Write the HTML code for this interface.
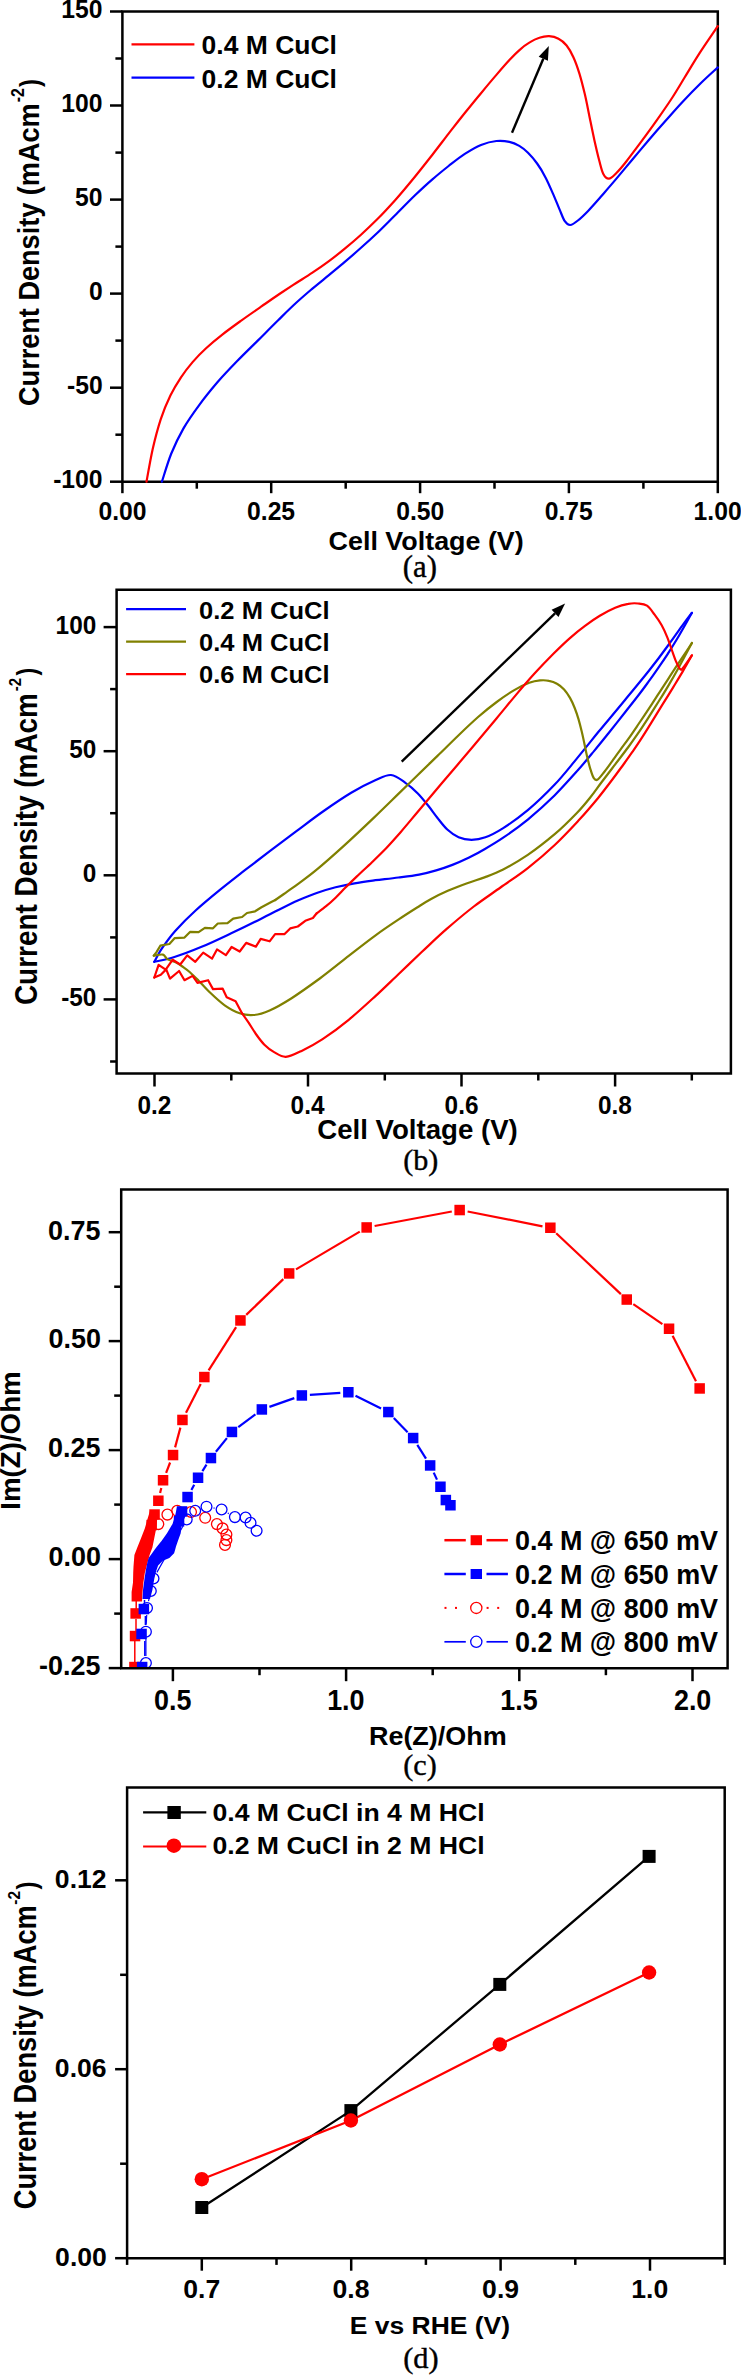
<!DOCTYPE html>
<html><head><meta charset="utf-8"><style>html,body{margin:0;padding:0;background:#fff;}svg{display:block;}</style></head>
<body><svg width="741" height="2375" viewBox="0 0 741 2375">
<rect width="741" height="2375" fill="#fff"/>
<path d="M122.4,481.7 L122.4,11.5 L717.8,11.5 L717.8,481.7 Z" fill="none" stroke="#000" stroke-width="2.5" stroke-linejoin="miter"/>
<line x1="110.0" y1="11.5" x2="122.4" y2="11.5" stroke="#000" stroke-width="2.5" stroke-linecap="butt"/>
<line x1="115.4" y1="58.5" x2="122.4" y2="58.5" stroke="#000" stroke-width="2.5" stroke-linecap="butt"/>
<line x1="110.0" y1="105.5" x2="122.4" y2="105.5" stroke="#000" stroke-width="2.5" stroke-linecap="butt"/>
<line x1="115.4" y1="152.6" x2="122.4" y2="152.6" stroke="#000" stroke-width="2.5" stroke-linecap="butt"/>
<line x1="110.0" y1="199.6" x2="122.4" y2="199.6" stroke="#000" stroke-width="2.5" stroke-linecap="butt"/>
<line x1="115.4" y1="246.6" x2="122.4" y2="246.6" stroke="#000" stroke-width="2.5" stroke-linecap="butt"/>
<line x1="110.0" y1="293.6" x2="122.4" y2="293.6" stroke="#000" stroke-width="2.5" stroke-linecap="butt"/>
<line x1="115.4" y1="340.6" x2="122.4" y2="340.6" stroke="#000" stroke-width="2.5" stroke-linecap="butt"/>
<line x1="110.0" y1="387.7" x2="122.4" y2="387.7" stroke="#000" stroke-width="2.5" stroke-linecap="butt"/>
<line x1="115.4" y1="434.7" x2="122.4" y2="434.7" stroke="#000" stroke-width="2.5" stroke-linecap="butt"/>
<line x1="110.0" y1="481.7" x2="122.4" y2="481.7" stroke="#000" stroke-width="2.5" stroke-linecap="butt"/>
<line x1="122.4" y1="481.7" x2="122.4" y2="493.2" stroke="#000" stroke-width="2.5" stroke-linecap="butt"/>
<line x1="196.8" y1="481.7" x2="196.8" y2="488.7" stroke="#000" stroke-width="2.5" stroke-linecap="butt"/>
<line x1="271.2" y1="481.7" x2="271.2" y2="493.2" stroke="#000" stroke-width="2.5" stroke-linecap="butt"/>
<line x1="345.7" y1="481.7" x2="345.7" y2="488.7" stroke="#000" stroke-width="2.5" stroke-linecap="butt"/>
<line x1="420.1" y1="481.7" x2="420.1" y2="493.2" stroke="#000" stroke-width="2.5" stroke-linecap="butt"/>
<line x1="494.5" y1="481.7" x2="494.5" y2="488.7" stroke="#000" stroke-width="2.5" stroke-linecap="butt"/>
<line x1="568.9" y1="481.7" x2="568.9" y2="493.2" stroke="#000" stroke-width="2.5" stroke-linecap="butt"/>
<line x1="643.4" y1="481.7" x2="643.4" y2="488.7" stroke="#000" stroke-width="2.5" stroke-linecap="butt"/>
<line x1="717.8" y1="481.7" x2="717.8" y2="493.2" stroke="#000" stroke-width="2.5" stroke-linecap="butt"/>
<path d="M146.5,481.7 C147.5,476.2 150.4,459.3 152.7,448.9 C155.1,438.5 157.8,428.2 160.7,419.3 C163.7,410.4 167.0,402.5 170.4,395.5 C173.8,388.5 177.3,382.9 181.0,377.3 C184.7,371.7 188.5,366.9 192.6,362.1 C196.8,357.3 200.9,353.0 205.8,348.5 C210.7,343.9 216.1,339.4 222.0,334.8 C227.9,330.2 234.7,325.3 241.2,320.6 C247.7,315.9 254.7,311.1 261.1,306.7 C267.4,302.3 273.6,297.9 279.4,294.0 C285.3,290.1 290.7,286.6 296.2,283.0 C301.7,279.5 307.0,276.3 312.4,272.7 C317.8,269.1 323.2,265.4 328.6,261.4 C334.0,257.4 339.4,253.1 344.8,248.6 C350.2,244.2 355.6,239.6 361.0,234.7 C366.4,229.8 371.5,225.0 377.2,219.3 C382.9,213.6 388.8,207.2 395.1,200.2 C401.3,193.2 408.3,184.8 414.5,177.2 C420.8,169.6 426.7,161.9 432.4,154.7 C438.1,147.4 443.2,140.6 448.6,133.6 C454.0,126.7 459.4,119.7 464.8,113.0 C470.2,106.3 475.7,99.5 481.0,93.2 C486.3,86.8 491.6,80.4 496.4,74.9 C501.1,69.4 505.4,64.4 509.4,60.1 C513.3,55.9 516.6,52.5 520.0,49.6 C523.3,46.6 526.5,44.3 529.7,42.4 C532.9,40.4 536.2,38.8 539.4,37.8 C542.6,36.7 545.9,36.1 549.1,36.2 C552.3,36.4 555.6,37.2 558.5,38.8 C561.4,40.3 564.1,42.4 566.6,45.5 C569.1,48.6 571.3,52.5 573.4,57.2 C575.6,61.9 577.6,67.7 579.5,73.8 C581.4,80.0 583.1,86.9 584.8,94.1 C586.5,101.3 588.0,109.4 589.6,117.2 C591.2,125.0 592.9,133.5 594.5,140.7 C596.1,147.8 597.7,154.6 599.1,160.1 C600.6,165.6 601.6,170.7 603.2,173.8 C604.8,176.9 606.7,178.8 608.9,178.7 C611.1,178.6 613.5,175.9 616.4,173.0 C619.3,170.2 622.3,166.6 626.3,161.5 C630.3,156.4 635.4,149.5 640.5,142.7 C645.6,135.8 651.5,127.8 656.7,120.4 C661.9,113.0 667.0,105.7 671.7,98.5 C676.3,91.4 680.1,84.9 684.6,77.5 C689.2,70.0 693.6,62.5 699.1,53.9 C704.6,45.4 714.7,30.8 717.8,26.2" fill="none" stroke="#ff0000" stroke-width="2.2" stroke-linejoin="round" stroke-linecap="round" />
<path d="M161.9,481.7 C163.5,477.0 167.7,462.4 171.3,453.5 C174.9,444.6 178.9,436.5 183.5,428.4 C188.2,420.3 193.5,412.8 199.2,405.1 C204.8,397.4 211.1,389.7 217.4,382.3 C223.8,375.0 230.4,368.1 237.2,361.1 C243.9,354.1 251.1,347.3 258.0,340.4 C264.9,333.5 272.0,326.3 278.4,320.0 C284.8,313.7 290.5,308.0 296.2,302.8 C301.9,297.5 307.0,293.2 312.4,288.6 C317.8,284.1 323.2,279.8 328.6,275.4 C334.0,270.9 339.4,266.5 344.8,261.9 C350.2,257.3 355.6,252.7 361.0,247.8 C366.4,243.0 371.5,238.4 377.2,233.0 C382.9,227.6 388.8,221.5 395.1,215.3 C401.3,209.1 408.3,201.8 414.5,195.8 C420.8,189.8 426.7,184.3 432.4,179.4 C438.1,174.4 443.2,170.3 448.6,166.0 C454.0,161.8 459.4,157.4 464.8,153.9 C470.2,150.4 475.7,147.1 481.0,144.9 C486.3,142.8 491.6,141.5 496.4,141.0 C501.1,140.5 505.5,141.0 509.4,141.9 C513.2,142.7 516.2,144.1 519.3,145.9 C522.4,147.7 525.0,149.8 528.0,152.8 C530.9,155.7 534.2,159.4 537.1,163.5 C540.1,167.6 543.0,172.5 545.5,177.4 C548.1,182.3 550.4,187.8 552.6,192.9 C554.9,198.0 557.0,203.4 559.0,208.1 C561.1,212.8 562.9,218.4 564.8,221.2 C566.7,224.0 568.0,225.1 570.2,225.0 C572.4,224.9 574.9,222.9 577.9,220.5 C580.9,218.1 584.2,214.9 588.1,210.9 C591.9,206.9 596.3,201.8 601.0,196.5 C605.7,191.1 611.0,185.1 616.2,178.9 C621.4,172.7 627.0,165.9 632.4,159.5 C637.8,153.0 643.1,146.7 648.6,140.2 C654.1,133.8 659.8,127.3 665.6,120.8 C671.4,114.3 677.5,107.2 683.4,101.0 C689.2,94.8 695.0,88.9 700.7,83.3 C706.4,77.7 714.9,70.1 717.8,67.4" fill="none" stroke="#0000ff" stroke-width="2.2" stroke-linejoin="round" stroke-linecap="round" />
<line x1="512.0" y1="132.8" x2="543.3" y2="58.8" stroke="#000" stroke-width="2.4" stroke-linecap="butt"/>
<path d="M548.8,45.9 L547.9,60.7 L538.7,56.8 Z" fill="#000"/>
<line x1="131.5" y1="44.3" x2="194.4" y2="44.3" stroke="#ff0000" stroke-width="2.2" stroke-linecap="butt"/>
<line x1="131.5" y1="77.7" x2="194.4" y2="77.7" stroke="#0000ff" stroke-width="2.2" stroke-linecap="butt"/>
<path d="M116.6,1073.5 L116.6,589.7 L730.9,589.7 L730.9,1073.5 Z" fill="none" stroke="#000" stroke-width="2.5" stroke-linejoin="miter"/>
<line x1="103.6" y1="627.1" x2="116.6" y2="627.1" stroke="#000" stroke-width="2.5" stroke-linecap="butt"/>
<line x1="103.6" y1="751.2" x2="116.6" y2="751.2" stroke="#000" stroke-width="2.5" stroke-linecap="butt"/>
<line x1="103.6" y1="875.3" x2="116.6" y2="875.3" stroke="#000" stroke-width="2.5" stroke-linecap="butt"/>
<line x1="103.6" y1="999.4" x2="116.6" y2="999.4" stroke="#000" stroke-width="2.5" stroke-linecap="butt"/>
<line x1="110.1" y1="689.1" x2="116.6" y2="689.1" stroke="#000" stroke-width="2.5" stroke-linecap="butt"/>
<line x1="110.1" y1="813.2" x2="116.6" y2="813.2" stroke="#000" stroke-width="2.5" stroke-linecap="butt"/>
<line x1="110.1" y1="937.4" x2="116.6" y2="937.4" stroke="#000" stroke-width="2.5" stroke-linecap="butt"/>
<line x1="110.1" y1="1061.5" x2="116.6" y2="1061.5" stroke="#000" stroke-width="2.5" stroke-linecap="butt"/>
<line x1="154.5" y1="1073.5" x2="154.5" y2="1086.5" stroke="#000" stroke-width="2.5" stroke-linecap="butt"/>
<line x1="308.0" y1="1073.5" x2="308.0" y2="1086.5" stroke="#000" stroke-width="2.5" stroke-linecap="butt"/>
<line x1="461.5" y1="1073.5" x2="461.5" y2="1086.5" stroke="#000" stroke-width="2.5" stroke-linecap="butt"/>
<line x1="615.1" y1="1073.5" x2="615.1" y2="1086.5" stroke="#000" stroke-width="2.5" stroke-linecap="butt"/>
<line x1="231.3" y1="1073.5" x2="231.3" y2="1080.5" stroke="#000" stroke-width="2.5" stroke-linecap="butt"/>
<line x1="384.8" y1="1073.5" x2="384.8" y2="1080.5" stroke="#000" stroke-width="2.5" stroke-linecap="butt"/>
<line x1="538.3" y1="1073.5" x2="538.3" y2="1080.5" stroke="#000" stroke-width="2.5" stroke-linecap="butt"/>
<line x1="691.8" y1="1073.5" x2="691.8" y2="1080.5" stroke="#000" stroke-width="2.5" stroke-linecap="butt"/>
<path d="M154.3,961.8 C155.6,959.5 158.6,953.4 162.1,948.2 C165.6,943.1 169.6,937.3 175.2,931.0 C180.8,924.7 188.1,917.3 195.6,910.5 C203.1,903.7 211.7,896.6 219.9,889.9 C228.1,883.2 236.6,876.7 244.9,870.2 C253.2,863.8 261.3,857.7 269.8,851.2 C278.4,844.7 287.1,838.1 296.1,831.4 C305.1,824.7 314.5,817.4 323.7,811.0 C332.9,804.6 342.7,797.9 351.2,792.8 C359.8,787.7 368.6,783.2 375.2,780.3 C381.9,777.3 386.0,774.6 391.0,775.0 C396.0,775.4 401.0,779.7 405.4,782.8 C409.9,785.8 414.0,789.5 417.8,793.4 C421.6,797.2 425.0,801.6 428.3,805.8 C431.6,809.9 434.5,814.3 437.7,818.2 C440.8,822.2 443.8,826.3 447.3,829.5 C450.8,832.7 454.6,835.5 458.6,837.2 C462.6,838.9 467.1,839.7 471.6,839.8 C476.0,839.8 480.1,839.2 485.4,837.3 C490.6,835.4 496.1,832.6 503.2,828.1 C510.3,823.6 519.2,817.4 527.8,810.2 C536.3,803.0 546.3,793.4 554.5,784.8 C562.7,776.2 569.4,767.5 576.8,758.6 C584.1,749.8 590.5,741.7 598.5,731.8 C606.6,722.0 616.9,709.9 625.2,699.7 C633.6,689.5 641.9,679.7 648.9,670.8 C655.9,662.0 661.8,654.1 667.3,646.5 C672.9,639.0 678.2,631.2 682.3,625.6 C686.4,620.0 690.3,614.9 691.9,612.8" fill="none" stroke="#0000ff" stroke-width="2.2" stroke-linejoin="round" stroke-linecap="round" />
<path d="M691.9,612.8 C689.7,616.8 682.5,629.7 678.5,636.5 C674.5,643.3 671.1,648.6 667.8,653.8 C664.4,659.0 661.5,663.2 658.3,667.8 C655.2,672.3 652.0,676.9 648.9,681.2 C645.7,685.6 643.3,689.0 639.4,694.0 C635.6,699.0 630.9,704.9 625.7,711.5 C620.5,718.1 613.6,726.9 608.3,733.5 C603.0,740.1 599.1,745.0 594.0,751.1 C588.9,757.3 584.4,762.9 577.8,770.3 C571.2,777.7 562.8,787.2 554.5,795.5 C546.2,803.7 536.3,812.5 527.8,819.6 C519.2,826.6 510.4,832.8 503.2,837.7 C496.0,842.6 490.3,845.9 484.5,849.2 C478.8,852.6 474.0,855.1 468.6,857.8 C463.2,860.4 457.8,862.8 452.4,864.9 C447.0,867.0 441.8,868.8 436.2,870.4 C430.6,872.1 425.4,873.4 419.1,874.6 C412.7,875.8 405.6,876.6 398.4,877.5 C391.1,878.5 382.6,879.3 375.3,880.2 C368.0,881.2 361.1,882.1 354.5,883.3 C347.9,884.5 341.9,885.7 335.6,887.3 C329.3,888.9 323.0,890.8 316.7,893.0 C310.4,895.2 304.1,897.8 297.8,900.5 C291.5,903.3 285.6,906.4 278.9,909.8 C272.2,913.1 265.8,916.5 257.8,920.4 C249.9,924.4 240.7,928.9 231.2,933.3 C221.7,937.8 210.5,943.2 201.0,947.1 C191.5,951.1 182.2,954.6 174.4,957.0 C166.6,959.5 157.6,961.0 154.3,961.8" fill="none" stroke="#0000ff" stroke-width="2.2" stroke-linejoin="round" stroke-linecap="round" />
<path d="M153.8,955.7 L156.5,952.1 L160.3,945.7 L169.4,944.0 L174.8,938.1 L184.5,937.6 L190.0,931.9 L198.6,932.2 L204.9,927.9 L213.0,928.3 L217.8,923.5 L227.5,923.2 L233.2,918.6 L242.1,917.0 L247.0,913.0 L255.1,911.3 L261.5,907.3 L271.3,902.0 L275.3,900.0" fill="none" stroke="#808000" stroke-width="2.2" stroke-linejoin="round" stroke-linecap="round" />
<path d="M275.3,900.0 C277.0,898.8 281.6,895.6 285.6,892.8 C289.6,889.9 293.9,887.1 299.2,883.1 C304.6,879.1 310.2,875.1 317.6,868.9 C325.1,862.7 334.3,854.5 343.8,845.9 C353.3,837.2 365.4,825.8 374.5,817.1 C383.7,808.3 391.7,800.4 398.9,793.4 C406.1,786.4 411.4,781.2 417.8,775.0 C424.2,768.7 430.8,762.4 437.5,755.9 C444.2,749.4 451.4,742.1 458.1,735.7 C464.8,729.3 471.4,723.0 477.8,717.3 C484.2,711.7 490.6,706.5 496.7,702.0 C502.8,697.4 509.2,693.1 514.7,689.9 C520.1,686.7 525.0,684.4 529.2,682.8 C533.5,681.2 536.7,680.7 540.0,680.4 C543.3,680.1 546.1,680.2 549.0,680.8 C551.8,681.3 554.5,682.2 557.0,683.7 C559.5,685.1 561.9,687.1 564.1,689.5 C566.3,691.9 568.2,694.8 570.0,697.9 C571.8,701.0 573.3,704.5 574.7,708.0 C576.1,711.6 577.4,715.3 578.5,719.1 C579.6,722.9 580.6,726.9 581.6,731.0 C582.6,735.0 583.5,739.4 584.4,743.7 C585.3,748.0 586.2,752.7 587.2,756.9 C588.2,761.1 589.2,765.3 590.3,768.8 C591.4,772.4 592.6,776.4 593.8,778.2 C595.0,780.0 595.8,780.7 597.6,779.6 C599.4,778.5 602.1,774.6 604.6,771.5 C607.1,768.3 609.8,764.4 612.4,760.8 C615.0,757.2 617.5,753.7 620.3,749.9 C623.0,746.1 625.8,742.5 628.9,738.1 C632.0,733.7 635.5,728.5 638.9,723.5 C642.2,718.6 645.6,713.5 648.9,708.6 C652.1,703.7 655.2,699.1 658.3,694.2 C661.5,689.4 664.6,684.5 667.8,679.6 C670.9,674.8 674.2,669.7 677.2,665.2 C680.2,660.7 683.2,656.2 685.6,652.5 C688.1,648.8 690.9,644.6 691.9,643.0" fill="none" stroke="#808000" stroke-width="2.2" stroke-linejoin="round" stroke-linecap="round" />
<path d="M691.9,643.0 C689.7,647.1 682.5,660.6 678.5,667.9 C674.5,675.1 671.1,681.0 667.8,686.6 C664.4,692.3 661.5,697.0 658.3,702.0 C655.2,707.0 652.0,712.0 648.9,716.9 C645.7,721.8 642.9,726.2 639.4,731.3 C635.9,736.4 632.2,741.6 628.0,747.5 C623.7,753.3 618.3,760.2 613.8,766.2 C609.2,772.2 604.5,778.4 600.6,783.5 C596.7,788.7 594.3,792.4 590.4,797.2 C586.5,802.1 583.0,806.6 577.1,812.7 C571.2,818.8 563.2,826.9 555.0,833.9 C546.7,840.9 536.4,849.0 527.8,854.9 C519.1,860.8 510.4,865.7 503.2,869.5 C496.0,873.2 490.5,875.1 484.5,877.4 C478.6,879.6 473.4,880.9 467.2,883.2 C461.1,885.4 453.8,888.1 447.8,890.8 C441.8,893.4 436.2,896.2 431.1,899.0 C425.9,901.8 422.5,904.1 417.1,907.5 C411.7,910.9 405.7,914.7 398.7,919.4 C391.6,924.1 383.2,929.7 374.9,935.8 C366.6,941.8 357.9,948.8 348.7,955.9 C339.5,963.1 329.3,971.5 319.8,978.5 C310.2,985.5 299.9,992.9 291.6,998.2 C283.2,1003.5 275.9,1007.7 269.6,1010.5 C263.3,1013.3 258.8,1014.6 253.8,1015.0 C248.8,1015.5 244.5,1014.9 239.7,1013.3 C234.8,1011.7 229.6,1008.7 224.7,1005.3 C219.8,1001.8 214.4,996.7 210.0,992.5 C205.6,988.4 201.7,983.8 198.4,980.4 C195.0,977.0 192.6,974.6 189.9,972.2 C187.3,969.9 184.8,968.2 182.4,966.5 C179.9,964.7 177.6,963.2 175.1,962.0 C172.6,960.8 169.3,960.3 167.3,959.1 C165.3,957.9 165.2,955.2 163.0,954.6 C160.8,954.0 155.3,955.5 153.8,955.7" fill="none" stroke="#808000" stroke-width="2.2" stroke-linejoin="round" stroke-linecap="round" />
<path d="M154.3,977.5 L158.6,964.8 L165.7,969.7 L172.7,959.7 L180.2,964.5 L187.2,955.4 L195.3,961.8 L203.2,952.6 L212.1,958.6 L217.0,949.4 L225.9,955.1 L231.6,947.0 L239.7,951.5 L246.2,942.9 L255.9,946.6 L260.7,938.9 L269.6,941.3 L275.1,934.1 L284.6,934.1 L290.2,928.4 L297.8,926.5 L305.3,920.8 L312.9,918.0 L316.7,913.3" fill="none" stroke="#ff0000" stroke-width="2.2" stroke-linejoin="round" stroke-linecap="round" />
<path d="M316.7,913.3 C318.3,912.1 323.0,908.8 326.1,906.2 C329.3,903.6 332.4,900.8 335.6,897.7 C338.7,894.7 341.5,891.6 345.0,888.0 C348.6,884.5 352.4,880.7 356.9,876.4 C361.3,872.1 367.1,867.0 372.0,862.2 C376.9,857.5 381.6,853.0 386.4,848.0 C391.1,842.9 395.3,838.2 400.6,832.2 C405.8,826.2 410.9,820.0 417.8,811.8 C424.8,803.6 433.2,793.5 442.2,782.8 C451.3,772.0 463.2,758.2 472.2,747.5 C481.3,736.7 489.5,726.9 496.7,718.2 C503.9,709.6 509.3,702.8 515.6,695.4 C521.9,687.9 528.2,680.5 534.5,673.6 C540.8,666.7 547.4,659.8 553.4,653.8 C559.4,647.8 565.2,642.2 570.5,637.6 C575.7,633.0 580.1,629.5 585.0,625.9 C589.9,622.2 594.8,618.8 599.8,615.8 C604.8,612.8 610.5,609.8 615.2,607.8 C620.0,605.8 624.5,604.6 628.3,603.9 C632.1,603.1 634.9,603.1 638.0,603.5 C641.2,603.8 644.2,603.8 647.0,605.7 C649.8,607.6 652.1,611.4 654.6,614.7 C657.0,617.9 659.5,621.5 661.7,625.3 C663.8,629.1 665.6,633.2 667.3,637.3 C669.0,641.4 670.4,646.0 671.8,650.0 C673.3,654.1 674.7,658.5 676.1,661.6 C677.5,664.8 679.0,667.9 680.1,669.0 C681.2,670.1 680.9,670.3 682.9,668.0 C684.9,665.7 690.4,657.4 691.9,655.3" fill="none" stroke="#ff0000" stroke-width="2.2" stroke-linejoin="round" stroke-linecap="round" />
<path d="M691.9,655.3 C690.4,658.0 685.9,666.1 682.8,671.4 C679.6,676.8 676.4,682.0 673.0,687.6 C669.6,693.2 665.8,699.3 662.1,705.1 C658.5,711.0 654.6,717.4 651.2,722.9 C647.9,728.3 644.8,733.3 641.8,737.9 C638.8,742.5 636.3,746.3 633.3,750.6 C630.3,754.9 627.4,759.1 623.8,764.0 C620.2,768.9 616.3,774.3 612.0,780.0 C607.7,785.6 603.3,791.5 597.9,798.2 C592.4,804.8 586.5,811.8 579.4,819.6 C572.2,827.3 563.6,836.6 555.0,844.7 C546.4,852.8 536.8,861.0 527.8,868.1 C518.7,875.3 509.5,881.1 500.5,887.5 C491.5,893.9 482.7,899.7 473.8,906.5 C464.8,913.4 455.7,921.1 447.0,928.7 C438.3,936.2 429.8,944.5 421.7,952.0 C413.7,959.6 406.5,966.6 398.7,974.0 C390.9,981.4 383.2,989.0 374.9,996.6 C366.6,1004.2 357.4,1012.7 348.7,1019.8 C340.0,1026.9 330.4,1034.0 322.6,1039.2 C314.8,1044.4 307.8,1048.0 301.6,1050.9 C295.5,1053.9 290.4,1056.6 285.8,1056.8 C281.2,1057.0 277.7,1054.1 274.1,1052.1 C270.5,1050.1 267.4,1047.7 264.4,1044.7 C261.4,1041.7 258.5,1037.7 255.9,1034.0 C253.3,1030.3 250.9,1026.1 248.6,1022.7 C246.3,1019.3 243.2,1015.0 242.1,1013.4" fill="none" stroke="#ff0000" stroke-width="2.2" stroke-linejoin="round" stroke-linecap="round" />
<path d="M242.1,1013.4 L235.6,1001.2 L226.7,997.2 L222.7,988.7 L213.0,989.1 L208.1,980.2 L197.5,982.9 L192.6,975.9 L184.5,980.2 L179.1,971.0 L170.0,978.6 L166.2,969.4 L160.8,974.8 L154.3,977.5" fill="none" stroke="#ff0000" stroke-width="2.2" stroke-linejoin="round" stroke-linecap="round" />
<line x1="401.7" y1="761.7" x2="555.0" y2="613.3" stroke="#000" stroke-width="2.4" stroke-linecap="butt"/>
<path d="M565.1,603.6 L558.5,616.9 L551.6,609.7 Z" fill="#000"/>
<line x1="126.1" y1="609.2" x2="186.0" y2="609.2" stroke="#0000ff" stroke-width="2.2" stroke-linecap="butt"/>
<line x1="126.1" y1="641.7" x2="186.0" y2="641.7" stroke="#808000" stroke-width="2.2" stroke-linecap="butt"/>
<line x1="126.1" y1="674.1" x2="186.0" y2="674.1" stroke="#ff0000" stroke-width="2.2" stroke-linecap="butt"/>
<defs><clipPath id="clipc"><rect x="121.2" y="1189.5" width="606.4" height="478.7"/></clipPath></defs>
<g clip-path="url(#clipc)">
<line x1="696.0" y1="1381.3" x2="672.6" y2="1335.8" stroke="#ff0000" stroke-width="2.2" />
<line x1="662.4" y1="1324.2" x2="633.3" y2="1304.1" stroke="#ff0000" stroke-width="2.2" />
<line x1="620.9" y1="1294.1" x2="556.2" y2="1233.3" stroke="#ff0000" stroke-width="2.2" />
<line x1="542.5" y1="1226.3" x2="467.6" y2="1211.5" stroke="#ff0000" stroke-width="2.2" />
<line x1="451.8" y1="1211.5" x2="374.6" y2="1226.0" stroke="#ff0000" stroke-width="2.2" />
<line x1="359.8" y1="1231.6" x2="296.0" y2="1269.4" stroke="#ff0000" stroke-width="2.2" />
<line x1="283.3" y1="1279.1" x2="246.2" y2="1314.9" stroke="#ff0000" stroke-width="2.2" />
<line x1="236.1" y1="1327.2" x2="208.6" y2="1370.3" stroke="#ff0000" stroke-width="2.2" />
<line x1="200.7" y1="1384.1" x2="186.0" y2="1412.8" stroke="#ff0000" stroke-width="2.2" />
<line x1="180.4" y1="1427.6" x2="175.1" y2="1447.4" stroke="#ff0000" stroke-width="2.2" />
<line x1="170.1" y1="1462.5" x2="166.1" y2="1472.8" stroke="#ff0000" stroke-width="2.2" />
<line x1="161.3" y1="1488.0" x2="160.1" y2="1493.0" stroke="#ff0000" stroke-width="2.2" />
<rect x="694.4" y="1383.2" width="10.5" height="10.5" fill="#ff0000"/>
<rect x="663.8" y="1323.5" width="10.5" height="10.5" fill="#ff0000"/>
<rect x="621.5" y="1294.3" width="10.5" height="10.5" fill="#ff0000"/>
<rect x="545.1" y="1222.5" width="10.5" height="10.5" fill="#ff0000"/>
<rect x="454.4" y="1204.8" width="10.5" height="10.5" fill="#ff0000"/>
<rect x="361.4" y="1222.2" width="10.5" height="10.5" fill="#ff0000"/>
<rect x="283.9" y="1268.2" width="10.5" height="10.5" fill="#ff0000"/>
<rect x="235.2" y="1315.2" width="10.5" height="10.5" fill="#ff0000"/>
<rect x="199.1" y="1371.8" width="10.5" height="10.5" fill="#ff0000"/>
<rect x="177.2" y="1414.7" width="10.5" height="10.5" fill="#ff0000"/>
<rect x="167.8" y="1449.8" width="10.5" height="10.5" fill="#ff0000"/>
<rect x="157.8" y="1475.0" width="10.5" height="10.5" fill="#ff0000"/>
<rect x="153.1" y="1495.5" width="10.5" height="10.5" fill="#ff0000"/>
<rect x="149.3" y="1509.3" width="10.5" height="10.5" fill="#ff0000"/>
<rect x="146.4" y="1519.8" width="10.5" height="10.5" fill="#ff0000"/>
<path d="M150.0,1510.7 L147.2,1520.1 L144.8,1528.6 L141.1,1538.1 L137.3,1547.5 L134.4,1555.1 L133.5,1566.4 L133.2,1573.0 L133.0,1582.5 L131.6,1591.9 L131.6,1601.4 L142.0,1601.4 L142.5,1591.9 L143.4,1582.5 L144.8,1573.0 L146.5,1566.4 L149.6,1555.1 L152.4,1547.5 L154.3,1538.1 L156.2,1528.6 L157.1,1520.1 L159.0,1510.7 Z" fill="#ff0000"/>
<line x1="136.2" y1="1601.0" x2="136.2" y2="1610.0" stroke="#ff0000" stroke-width="1.5" stroke-linecap="butt"/>
<rect x="130.4" y="1608.2" width="10.5" height="10.5" fill="#ff0000"/>
<line x1="136.0" y1="1619.0" x2="136.0" y2="1631.0" stroke="#ff0000" stroke-width="1.5" stroke-linecap="butt"/>
<rect x="129.8" y="1630.8" width="10.5" height="10.5" fill="#ff0000"/>
<line x1="134.8" y1="1641.0" x2="134.8" y2="1662.0" stroke="#ff0000" stroke-width="1.5" stroke-linecap="butt"/>
<rect x="129.2" y="1661.8" width="10.5" height="10.5" fill="#ff0000"/>
<line x1="197.5" y1="1514.6" x2="198.7" y2="1515.2" stroke="#ff0000" stroke-width="1.2" stroke-dasharray="1.5,3"/>
<circle cx="158.3" cy="1524.1" r="5.4" fill="none" stroke="#ff0000" stroke-width="1.3"/>
<circle cx="167.4" cy="1514.6" r="5.4" fill="none" stroke="#ff0000" stroke-width="1.3"/>
<circle cx="177.2" cy="1510.8" r="5.4" fill="none" stroke="#ff0000" stroke-width="1.3"/>
<circle cx="191.0" cy="1512.0" r="5.4" fill="none" stroke="#ff0000" stroke-width="1.3"/>
<circle cx="205.2" cy="1517.8" r="5.4" fill="none" stroke="#ff0000" stroke-width="1.3"/>
<circle cx="216.9" cy="1524.1" r="5.4" fill="none" stroke="#ff0000" stroke-width="1.3"/>
<circle cx="222.6" cy="1528.4" r="5.4" fill="none" stroke="#ff0000" stroke-width="1.3"/>
<circle cx="226.4" cy="1534.5" r="5.4" fill="none" stroke="#ff0000" stroke-width="1.3"/>
<circle cx="226.4" cy="1540.1" r="5.4" fill="none" stroke="#ff0000" stroke-width="1.3"/>
<circle cx="225.0" cy="1544.9" r="5.4" fill="none" stroke="#ff0000" stroke-width="1.3"/>
<line x1="437.0" y1="1479.6" x2="433.7" y2="1472.6" stroke="#0000ff" stroke-width="2.2" />
<line x1="426.0" y1="1458.6" x2="417.3" y2="1444.8" stroke="#0000ff" stroke-width="2.2" />
<line x1="407.6" y1="1432.2" x2="393.8" y2="1417.9" stroke="#0000ff" stroke-width="2.2" />
<line x1="381.1" y1="1408.5" x2="355.5" y2="1395.8" stroke="#0000ff" stroke-width="2.2" />
<line x1="340.3" y1="1392.8" x2="309.9" y2="1394.9" stroke="#0000ff" stroke-width="2.2" />
<line x1="294.3" y1="1398.1" x2="269.4" y2="1406.9" stroke="#0000ff" stroke-width="2.2" />
<line x1="255.4" y1="1414.3" x2="238.3" y2="1427.1" stroke="#0000ff" stroke-width="2.2" />
<line x1="226.9" y1="1438.1" x2="215.9" y2="1451.8" stroke="#0000ff" stroke-width="2.2" />
<line x1="206.5" y1="1464.7" x2="202.4" y2="1471.1" stroke="#0000ff" stroke-width="2.2" />
<line x1="194.2" y1="1484.8" x2="191.4" y2="1490.1" stroke="#0000ff" stroke-width="2.2" />
<rect x="445.2" y="1500.0" width="10.5" height="10.5" fill="#0000ff"/>
<rect x="440.6" y="1494.8" width="10.5" height="10.5" fill="#0000ff"/>
<rect x="435.2" y="1481.5" width="10.5" height="10.5" fill="#0000ff"/>
<rect x="424.9" y="1460.2" width="10.5" height="10.5" fill="#0000ff"/>
<rect x="407.9" y="1432.8" width="10.5" height="10.5" fill="#0000ff"/>
<rect x="383.1" y="1406.8" width="10.5" height="10.5" fill="#0000ff"/>
<rect x="343.1" y="1387.0" width="10.5" height="10.5" fill="#0000ff"/>
<rect x="296.6" y="1390.2" width="10.5" height="10.5" fill="#0000ff"/>
<rect x="256.6" y="1404.2" width="10.5" height="10.5" fill="#0000ff"/>
<rect x="226.7" y="1426.7" width="10.5" height="10.5" fill="#0000ff"/>
<rect x="205.7" y="1452.8" width="10.5" height="10.5" fill="#0000ff"/>
<rect x="192.8" y="1472.5" width="10.5" height="10.5" fill="#0000ff"/>
<rect x="182.3" y="1491.8" width="10.5" height="10.5" fill="#0000ff"/>
<rect x="176.8" y="1506.2" width="10.5" height="10.5" fill="#0000ff"/>
<rect x="173.8" y="1516.0" width="10.5" height="10.5" fill="#0000ff"/>
<path d="M177.0,1506.9 L175.0,1516.3 L172.5,1523.9 L167.0,1533.3 L161.5,1540.9 L157.0,1546.6 L154.2,1550.3 L152.1,1553.2 L148.6,1557.9 L147.8,1560.7 L146.7,1565.5 L145.7,1571.1 L144.5,1578.7 L143.0,1590.0 L142.5,1599.0 L150.0,1599.0 L152.4,1590.0 L154.3,1578.7 L156.2,1571.1 L158.1,1565.5 L162.8,1560.7 L169.4,1557.9 L174.1,1553.2 L175.0,1550.3 L176.0,1546.6 L177.9,1540.9 L180.7,1533.3 L181.7,1523.9 L185.5,1516.3 L186.4,1506.9 Z" fill="#0000ff"/>
<line x1="144.5" y1="1600.0" x2="144.5" y2="1604.0" stroke="#0000ff" stroke-width="1.5" stroke-linecap="butt"/>
<rect x="138.6" y="1603.8" width="10.5" height="10.5" fill="#0000ff"/>
<line x1="145.4" y1="1616.0" x2="145.4" y2="1625.0" stroke="#0000ff" stroke-width="1.5" stroke-linecap="butt"/>
<rect x="136.3" y="1628.7" width="10.5" height="10.5" fill="#0000ff"/>
<line x1="144.8" y1="1641.0" x2="144.8" y2="1656.0" stroke="#0000ff" stroke-width="1.5" stroke-linecap="butt"/>
<rect x="136.9" y="1661.8" width="10.5" height="10.5" fill="#0000ff"/>
<line x1="228.8" y1="1513.6" x2="227.7" y2="1513.0" stroke="#0000ff" stroke-width="1.2" />
<line x1="214.7" y1="1508.2" x2="213.4" y2="1508.0" stroke="#0000ff" stroke-width="1.2" />
<line x1="183.3" y1="1525.5" x2="156.9" y2="1572.4" stroke="#0000ff" stroke-width="1.2" />
<line x1="149.3" y1="1597.8" x2="148.5" y2="1601.2" stroke="#0000ff" stroke-width="1.2" />
<line x1="146.7" y1="1615.0" x2="146.2" y2="1624.7" stroke="#0000ff" stroke-width="1.2" />
<line x1="145.9" y1="1638.7" x2="145.9" y2="1656.0" stroke="#0000ff" stroke-width="1.2" />
<circle cx="256.6" cy="1530.7" r="5.4" fill="none" stroke="#0000ff" stroke-width="1.3"/>
<circle cx="250.5" cy="1522.8" r="5.4" fill="none" stroke="#0000ff" stroke-width="1.3"/>
<circle cx="245.6" cy="1517.5" r="5.4" fill="none" stroke="#0000ff" stroke-width="1.3"/>
<circle cx="234.9" cy="1517.1" r="5.4" fill="none" stroke="#0000ff" stroke-width="1.3"/>
<circle cx="221.6" cy="1509.5" r="5.4" fill="none" stroke="#0000ff" stroke-width="1.3"/>
<circle cx="206.5" cy="1506.7" r="5.4" fill="none" stroke="#0000ff" stroke-width="1.3"/>
<circle cx="195.2" cy="1510.8" r="5.4" fill="none" stroke="#0000ff" stroke-width="1.3"/>
<circle cx="186.7" cy="1519.4" r="5.4" fill="none" stroke="#0000ff" stroke-width="1.3"/>
<circle cx="153.5" cy="1578.5" r="5.4" fill="none" stroke="#0000ff" stroke-width="1.3"/>
<circle cx="150.8" cy="1591.0" r="5.4" fill="none" stroke="#0000ff" stroke-width="1.3"/>
<circle cx="147.0" cy="1608.0" r="5.4" fill="none" stroke="#0000ff" stroke-width="1.3"/>
<circle cx="145.9" cy="1631.7" r="5.4" fill="none" stroke="#0000ff" stroke-width="1.3"/>
<circle cx="145.9" cy="1663.0" r="5.4" fill="none" stroke="#0000ff" stroke-width="1.3"/>
</g>
<path d="M121.2,1668.2 L121.2,1189.5 L727.6,1189.5 L727.6,1668.2 Z" fill="none" stroke="#000" stroke-width="2.5" stroke-linejoin="miter"/>
<line x1="108.7" y1="1232.2" x2="121.2" y2="1232.2" stroke="#000" stroke-width="2.5" stroke-linecap="butt"/>
<line x1="108.7" y1="1341.1" x2="121.2" y2="1341.1" stroke="#000" stroke-width="2.5" stroke-linecap="butt"/>
<line x1="108.7" y1="1450.1" x2="121.2" y2="1450.1" stroke="#000" stroke-width="2.5" stroke-linecap="butt"/>
<line x1="108.7" y1="1559.1" x2="121.2" y2="1559.1" stroke="#000" stroke-width="2.5" stroke-linecap="butt"/>
<line x1="108.7" y1="1668.1" x2="121.2" y2="1668.1" stroke="#000" stroke-width="2.5" stroke-linecap="butt"/>
<line x1="114.2" y1="1286.7" x2="121.2" y2="1286.7" stroke="#000" stroke-width="2.5" stroke-linecap="butt"/>
<line x1="114.2" y1="1395.6" x2="121.2" y2="1395.6" stroke="#000" stroke-width="2.5" stroke-linecap="butt"/>
<line x1="114.2" y1="1504.6" x2="121.2" y2="1504.6" stroke="#000" stroke-width="2.5" stroke-linecap="butt"/>
<line x1="114.2" y1="1613.6" x2="121.2" y2="1613.6" stroke="#000" stroke-width="2.5" stroke-linecap="butt"/>
<line x1="172.9" y1="1668.2" x2="172.9" y2="1681.2" stroke="#000" stroke-width="2.5" stroke-linecap="butt"/>
<line x1="346.1" y1="1668.2" x2="346.1" y2="1681.2" stroke="#000" stroke-width="2.5" stroke-linecap="butt"/>
<line x1="519.3" y1="1668.2" x2="519.3" y2="1681.2" stroke="#000" stroke-width="2.5" stroke-linecap="butt"/>
<line x1="692.5" y1="1668.2" x2="692.5" y2="1681.2" stroke="#000" stroke-width="2.5" stroke-linecap="butt"/>
<line x1="259.5" y1="1668.2" x2="259.5" y2="1675.2" stroke="#000" stroke-width="2.5" stroke-linecap="butt"/>
<line x1="432.7" y1="1668.2" x2="432.7" y2="1675.2" stroke="#000" stroke-width="2.5" stroke-linecap="butt"/>
<line x1="605.9" y1="1668.2" x2="605.9" y2="1675.2" stroke="#000" stroke-width="2.5" stroke-linecap="butt"/>
<line x1="444.4" y1="1540.2" x2="465.8" y2="1540.2" stroke="#ff0000" stroke-width="2.5" stroke-linecap="butt"/>
<line x1="486.5" y1="1540.2" x2="507.9" y2="1540.2" stroke="#ff0000" stroke-width="2.5" stroke-linecap="butt"/>
<rect x="470.6" y="1535.2" width="11.4" height="10" fill="#ff0000"/>
<line x1="444.4" y1="1574.0" x2="465.8" y2="1574.0" stroke="#0000ff" stroke-width="2.5" stroke-linecap="butt"/>
<line x1="486.5" y1="1574.0" x2="507.9" y2="1574.0" stroke="#0000ff" stroke-width="2.5" stroke-linecap="butt"/>
<rect x="470.6" y="1569.0" width="11.4" height="10" fill="#0000ff"/>
<rect x="444.5" y="1606.9" width="2" height="2" fill="#ff0000"/>
<rect x="455.0" y="1606.9" width="2" height="2" fill="#ff0000"/>
<rect x="486.6" y="1606.9" width="2" height="2" fill="#ff0000"/>
<rect x="497.2" y="1606.9" width="2" height="2" fill="#ff0000"/>
<circle cx="476.3" cy="1607.9" r="5.6" fill="none" stroke="#ff0000" stroke-width="1.3"/>
<line x1="444.4" y1="1641.8" x2="465.8" y2="1641.8" stroke="#0000ff" stroke-width="1.7" stroke-linecap="butt"/>
<line x1="486.5" y1="1641.8" x2="507.9" y2="1641.8" stroke="#0000ff" stroke-width="1.7" stroke-linecap="butt"/>
<circle cx="476.3" cy="1641.8" r="5.6" fill="none" stroke="#0000ff" stroke-width="1.3"/>
<path d="M127.1,2258.2 L127.1,1787.5 L724.7,1787.5 L724.7,2258.2 Z" fill="none" stroke="#000" stroke-width="2.5" stroke-linejoin="miter"/>
<line x1="115.1" y1="1880.3" x2="127.1" y2="1880.3" stroke="#000" stroke-width="2.5" stroke-linecap="butt"/>
<line x1="115.1" y1="2069.2" x2="127.1" y2="2069.2" stroke="#000" stroke-width="2.5" stroke-linecap="butt"/>
<line x1="115.1" y1="2258.2" x2="127.1" y2="2258.2" stroke="#000" stroke-width="2.5" stroke-linecap="butt"/>
<line x1="120.1" y1="1974.8" x2="127.1" y2="1974.8" stroke="#000" stroke-width="2.5" stroke-linecap="butt"/>
<line x1="120.1" y1="2163.7" x2="127.1" y2="2163.7" stroke="#000" stroke-width="2.5" stroke-linecap="butt"/>
<line x1="201.8" y1="2258.2" x2="201.8" y2="2270.7" stroke="#000" stroke-width="2.5" stroke-linecap="butt"/>
<line x1="351.2" y1="2258.2" x2="351.2" y2="2270.7" stroke="#000" stroke-width="2.5" stroke-linecap="butt"/>
<line x1="500.6" y1="2258.2" x2="500.6" y2="2270.7" stroke="#000" stroke-width="2.5" stroke-linecap="butt"/>
<line x1="650.0" y1="2258.2" x2="650.0" y2="2270.7" stroke="#000" stroke-width="2.5" stroke-linecap="butt"/>
<line x1="127.1" y1="2258.2" x2="127.1" y2="2264.9" stroke="#000" stroke-width="2.5" stroke-linecap="butt"/>
<line x1="276.5" y1="2258.2" x2="276.5" y2="2264.9" stroke="#000" stroke-width="2.5" stroke-linecap="butt"/>
<line x1="425.9" y1="2258.2" x2="425.9" y2="2264.9" stroke="#000" stroke-width="2.5" stroke-linecap="butt"/>
<line x1="575.3" y1="2258.2" x2="575.3" y2="2264.9" stroke="#000" stroke-width="2.5" stroke-linecap="butt"/>
<line x1="724.7" y1="2258.2" x2="724.7" y2="2264.9" stroke="#000" stroke-width="2.5" stroke-linecap="butt"/>
<path d="M201.8,2207.5 L350.9,2110.6 L499.8,1984.4 L649.1,1856.4" fill="none" stroke="#000" stroke-width="2.3" stroke-linejoin="round" stroke-linecap="round" />
<path d="M201.8,2179.2 L350.9,2120.5 L499.8,2044.5 L649.1,1972.5" fill="none" stroke="#ff0000" stroke-width="2.3" stroke-linejoin="round" stroke-linecap="round" />
<rect x="195.3" y="2201.0" width="13" height="13" fill="#000"/>
<rect x="344.4" y="2104.1" width="13" height="13" fill="#000"/>
<rect x="493.3" y="1977.9" width="13" height="13" fill="#000"/>
<rect x="642.6" y="1849.9" width="13" height="13" fill="#000"/>
<circle cx="201.8" cy="2179.2" r="7.2" fill="#ff0000"/>
<circle cx="350.9" cy="2120.5" r="7.2" fill="#ff0000"/>
<circle cx="499.8" cy="2044.5" r="7.2" fill="#ff0000"/>
<circle cx="649.1" cy="1972.5" r="7.2" fill="#ff0000"/>
<line x1="143.1" y1="1812.3" x2="206.3" y2="1812.3" stroke="#000" stroke-width="2.2" stroke-linecap="butt"/>
<rect x="167.4" y="1806" width="13.4" height="13" fill="#000"/>
<line x1="143.1" y1="1846.5" x2="206.3" y2="1846.5" stroke="#ff0000" stroke-width="2.2" stroke-linecap="butt"/>
<circle cx="173.9" cy="1845.7" r="7.3" fill="#ff0000"/>
<text x="201.64" y="54.05" font-family="Liberation Sans" font-weight="bold" font-size="25.14" textLength="135.36" lengthAdjust="spacingAndGlyphs" fill="#000">0.4 M CuCl</text>
<text x="201.64" y="87.85" font-family="Liberation Sans" font-weight="bold" font-size="25.14" textLength="135.36" lengthAdjust="spacingAndGlyphs" fill="#000">0.2 M CuCl</text>
<text x="328.62" y="549.88" font-family="Liberation Sans" font-weight="bold" font-size="26.28" textLength="195.13" lengthAdjust="spacingAndGlyphs" fill="#000">Cell Voltage (V)</text>
<text x="402.87" y="576.64" font-family="Liberation Serif" font-weight="normal" font-size="30.78" textLength="34.16" lengthAdjust="spacingAndGlyphs" fill="#000" stroke="#000" stroke-width="0.4">(a)</text>
<text x="-405.98" y="39.20" font-family="Liberation Sans" font-weight="bold" font-size="30.14" textLength="302.58" lengthAdjust="spacingAndGlyphs" fill="#000" transform="rotate(-90)">Current Density (mAcm</text>
<text x="-102.34" y="24.40" font-family="Liberation Sans" font-weight="bold" font-size="17.86" textLength="14.16" lengthAdjust="spacingAndGlyphs" fill="#000" transform="rotate(-90)">-2</text>
<text x="-87.10" y="38.82" font-family="Liberation Sans" font-weight="bold" font-size="27.98" textLength="8.09" lengthAdjust="spacingAndGlyphs" fill="#000" transform="rotate(-90)">)</text>
<text x="199.08" y="618.65" font-family="Liberation Sans" font-weight="bold" font-size="24.59" textLength="130.46" lengthAdjust="spacingAndGlyphs" fill="#000">0.2 M CuCl</text>
<text x="199.08" y="650.85" font-family="Liberation Sans" font-weight="bold" font-size="24.59" textLength="130.46" lengthAdjust="spacingAndGlyphs" fill="#000">0.4 M CuCl</text>
<text x="199.08" y="683.05" font-family="Liberation Sans" font-weight="bold" font-size="24.59" textLength="130.46" lengthAdjust="spacingAndGlyphs" fill="#000">0.6 M CuCl</text>
<text x="317.30" y="1139.04" font-family="Liberation Sans" font-weight="bold" font-size="27.45" textLength="200.49" lengthAdjust="spacingAndGlyphs" fill="#000">Cell Voltage (V)</text>
<text x="403.30" y="1169.50" font-family="Liberation Serif" font-weight="normal" font-size="30.00" textLength="35.09" lengthAdjust="spacingAndGlyphs" fill="#000" stroke="#000" stroke-width="0.4">(b)</text>
<text x="-1005.12" y="37.20" font-family="Liberation Sans" font-weight="bold" font-size="30.87" textLength="312.07" lengthAdjust="spacingAndGlyphs" fill="#000" transform="rotate(-90)">Current Density (mAcm</text>
<text x="-691.20" y="20.80" font-family="Liberation Sans" font-weight="bold" font-size="17.00" textLength="13.28" lengthAdjust="spacingAndGlyphs" fill="#000" transform="rotate(-90)">-2</text>
<text x="-675.60" y="36.24" font-family="Liberation Sans" font-weight="bold" font-size="28.40" textLength="7.61" lengthAdjust="spacingAndGlyphs" fill="#000" transform="rotate(-90)">)</text>
<text x="514.92" y="1549.80" font-family="Liberation Sans" font-weight="bold" font-size="27.97" textLength="203.19" lengthAdjust="spacingAndGlyphs" fill="#000">0.4 M @ 650 mV</text>
<text x="514.92" y="1583.50" font-family="Liberation Sans" font-weight="bold" font-size="28.26" textLength="203.19" lengthAdjust="spacingAndGlyphs" fill="#000">0.2 M @ 650 mV</text>
<text x="514.92" y="1618.00" font-family="Liberation Sans" font-weight="bold" font-size="28.26" textLength="203.19" lengthAdjust="spacingAndGlyphs" fill="#000">0.4 M @ 800 mV</text>
<text x="514.92" y="1651.50" font-family="Liberation Sans" font-weight="bold" font-size="28.70" textLength="203.19" lengthAdjust="spacingAndGlyphs" fill="#000">0.2 M @ 800 mV</text>
<text x="368.91" y="1745.31" font-family="Liberation Sans" font-weight="bold" font-size="25.21" textLength="137.83" lengthAdjust="spacingAndGlyphs" fill="#000">Re(Z)/Ohm</text>
<text x="403.19" y="1775.33" font-family="Liberation Serif" font-weight="normal" font-size="30.33" textLength="33.52" lengthAdjust="spacingAndGlyphs" fill="#000" stroke="#000" stroke-width="0.4">(c)</text>
<text x="-1509.74" y="20.40" font-family="Liberation Sans" font-weight="bold" font-size="27.68" textLength="138.39" lengthAdjust="spacingAndGlyphs" fill="#000" transform="rotate(-90)">Im(Z)/Ohm</text>
<text x="212.43" y="1821.45" font-family="Liberation Sans" font-weight="bold" font-size="24.59" textLength="272.32" lengthAdjust="spacingAndGlyphs" fill="#000">0.4 M CuCl in 4 M HCl</text>
<text x="212.43" y="1853.86" font-family="Liberation Sans" font-weight="bold" font-size="24.05" textLength="272.32" lengthAdjust="spacingAndGlyphs" fill="#000">0.2 M CuCl in 2 M HCl</text>
<text x="349.85" y="2333.84" font-family="Liberation Sans" font-weight="bold" font-size="24.57" textLength="160.20" lengthAdjust="spacingAndGlyphs" fill="#000">E vs RHE (V)</text>
<text x="403.19" y="2368.18" font-family="Liberation Serif" font-weight="normal" font-size="30.11" textLength="35.41" lengthAdjust="spacingAndGlyphs" fill="#000" stroke="#000" stroke-width="0.4">(d)</text>
<text x="-2209.29" y="36.30" font-family="Liberation Sans" font-weight="bold" font-size="30.58" textLength="304.10" lengthAdjust="spacingAndGlyphs" fill="#000" transform="rotate(-90)">Current Density (mAcm</text>
<text x="-1904.72" y="20.20" font-family="Liberation Sans" font-weight="bold" font-size="16.29" textLength="13.72" lengthAdjust="spacingAndGlyphs" fill="#000" transform="rotate(-90)">-2</text>
<text x="-1889.60" y="35.69" font-family="Liberation Sans" font-weight="bold" font-size="27.66" textLength="8.09" lengthAdjust="spacingAndGlyphs" fill="#000" transform="rotate(-90)">)</text>
<text x="61.28" y="18.15" font-family="Liberation Sans" font-weight="bold" font-size="25.35" textLength="41.18" lengthAdjust="spacingAndGlyphs" fill="#000">150</text>
<text x="61.28" y="112.19" font-family="Liberation Sans" font-weight="bold" font-size="25.35" textLength="41.18" lengthAdjust="spacingAndGlyphs" fill="#000">100</text>
<text x="75.10" y="206.23" font-family="Liberation Sans" font-weight="bold" font-size="25.35" textLength="27.45" lengthAdjust="spacingAndGlyphs" fill="#000">50</text>
<text x="88.91" y="300.27" font-family="Liberation Sans" font-weight="bold" font-size="25.35" textLength="13.73" lengthAdjust="spacingAndGlyphs" fill="#000">0</text>
<text x="66.95" y="394.31" font-family="Liberation Sans" font-weight="bold" font-size="25.35" textLength="35.67" lengthAdjust="spacingAndGlyphs" fill="#000">-50</text>
<text x="53.13" y="488.35" font-family="Liberation Sans" font-weight="bold" font-size="25.35" textLength="49.39" lengthAdjust="spacingAndGlyphs" fill="#000">-100</text>
<text x="98.46" y="520.45" font-family="Liberation Sans" font-weight="bold" font-size="25.35" textLength="48.03" lengthAdjust="spacingAndGlyphs" fill="#000">0.00</text>
<text x="247.07" y="520.45" font-family="Liberation Sans" font-weight="bold" font-size="25.35" textLength="48.03" lengthAdjust="spacingAndGlyphs" fill="#000">0.25</text>
<text x="396.16" y="520.45" font-family="Liberation Sans" font-weight="bold" font-size="25.35" textLength="48.03" lengthAdjust="spacingAndGlyphs" fill="#000">0.50</text>
<text x="544.77" y="520.45" font-family="Liberation Sans" font-weight="bold" font-size="25.35" textLength="48.03" lengthAdjust="spacingAndGlyphs" fill="#000">0.75</text>
<text x="693.62" y="520.45" font-family="Liberation Sans" font-weight="bold" font-size="25.35" textLength="48.03" lengthAdjust="spacingAndGlyphs" fill="#000">1.00</text>
<text x="55.58" y="633.75" font-family="Liberation Sans" font-weight="bold" font-size="25.07" textLength="40.66" lengthAdjust="spacingAndGlyphs" fill="#000">100</text>
<text x="69.22" y="757.85" font-family="Liberation Sans" font-weight="bold" font-size="25.07" textLength="27.11" lengthAdjust="spacingAndGlyphs" fill="#000">50</text>
<text x="82.87" y="881.95" font-family="Liberation Sans" font-weight="bold" font-size="25.07" textLength="13.56" lengthAdjust="spacingAndGlyphs" fill="#000">0</text>
<text x="61.18" y="1006.05" font-family="Liberation Sans" font-weight="bold" font-size="25.07" textLength="35.22" lengthAdjust="spacingAndGlyphs" fill="#000">-50</text>
<text x="137.56" y="1113.85" font-family="Liberation Sans" font-weight="bold" font-size="25.07" textLength="33.88" lengthAdjust="spacingAndGlyphs" fill="#000">0.2</text>
<text x="290.60" y="1113.85" font-family="Liberation Sans" font-weight="bold" font-size="25.07" textLength="33.88" lengthAdjust="spacingAndGlyphs" fill="#000">0.4</text>
<text x="444.60" y="1113.85" font-family="Liberation Sans" font-weight="bold" font-size="25.07" textLength="33.88" lengthAdjust="spacingAndGlyphs" fill="#000">0.6</text>
<text x="598.00" y="1113.85" font-family="Liberation Sans" font-weight="bold" font-size="25.07" textLength="33.88" lengthAdjust="spacingAndGlyphs" fill="#000">0.8</text>
<text x="48.02" y="1239.50" font-family="Liberation Sans" font-weight="bold" font-size="27.04" textLength="52.49" lengthAdjust="spacingAndGlyphs" fill="#000">0.75</text>
<text x="48.56" y="1348.48" font-family="Liberation Sans" font-weight="bold" font-size="27.04" textLength="52.49" lengthAdjust="spacingAndGlyphs" fill="#000">0.50</text>
<text x="48.02" y="1457.45" font-family="Liberation Sans" font-weight="bold" font-size="27.04" textLength="52.49" lengthAdjust="spacingAndGlyphs" fill="#000">0.25</text>
<text x="48.56" y="1566.43" font-family="Liberation Sans" font-weight="bold" font-size="27.04" textLength="52.49" lengthAdjust="spacingAndGlyphs" fill="#000">0.00</text>
<text x="39.12" y="1675.40" font-family="Liberation Sans" font-weight="bold" font-size="27.04" textLength="61.47" lengthAdjust="spacingAndGlyphs" fill="#000">-0.25</text>
<text x="154.07" y="1710.21" font-family="Liberation Sans" font-weight="bold" font-size="28.59" textLength="37.39" lengthAdjust="spacingAndGlyphs" fill="#000">0.5</text>
<text x="327.14" y="1710.21" font-family="Liberation Sans" font-weight="bold" font-size="28.59" textLength="37.39" lengthAdjust="spacingAndGlyphs" fill="#000">1.0</text>
<text x="500.21" y="1709.93" font-family="Liberation Sans" font-weight="bold" font-size="28.59" textLength="37.39" lengthAdjust="spacingAndGlyphs" fill="#000">1.5</text>
<text x="673.94" y="1710.21" font-family="Liberation Sans" font-weight="bold" font-size="28.59" textLength="37.39" lengthAdjust="spacingAndGlyphs" fill="#000">2.0</text>
<text x="54.86" y="1887.69" font-family="Liberation Sans" font-weight="bold" font-size="26.06" textLength="51.71" lengthAdjust="spacingAndGlyphs" fill="#000">0.12</text>
<text x="54.86" y="2076.64" font-family="Liberation Sans" font-weight="bold" font-size="26.06" textLength="51.71" lengthAdjust="spacingAndGlyphs" fill="#000">0.06</text>
<text x="55.13" y="2265.59" font-family="Liberation Sans" font-weight="bold" font-size="26.06" textLength="51.71" lengthAdjust="spacingAndGlyphs" fill="#000">0.00</text>
<text x="183.34" y="2298.44" font-family="Liberation Sans" font-weight="bold" font-size="26.06" textLength="36.93" lengthAdjust="spacingAndGlyphs" fill="#000">0.7</text>
<text x="332.60" y="2298.44" font-family="Liberation Sans" font-weight="bold" font-size="26.06" textLength="36.93" lengthAdjust="spacingAndGlyphs" fill="#000">0.8</text>
<text x="482.14" y="2298.44" font-family="Liberation Sans" font-weight="bold" font-size="26.06" textLength="36.93" lengthAdjust="spacingAndGlyphs" fill="#000">0.9</text>
<text x="631.27" y="2298.44" font-family="Liberation Sans" font-weight="bold" font-size="26.06" textLength="36.93" lengthAdjust="spacingAndGlyphs" fill="#000">1.0</text>
</svg></body></html>
